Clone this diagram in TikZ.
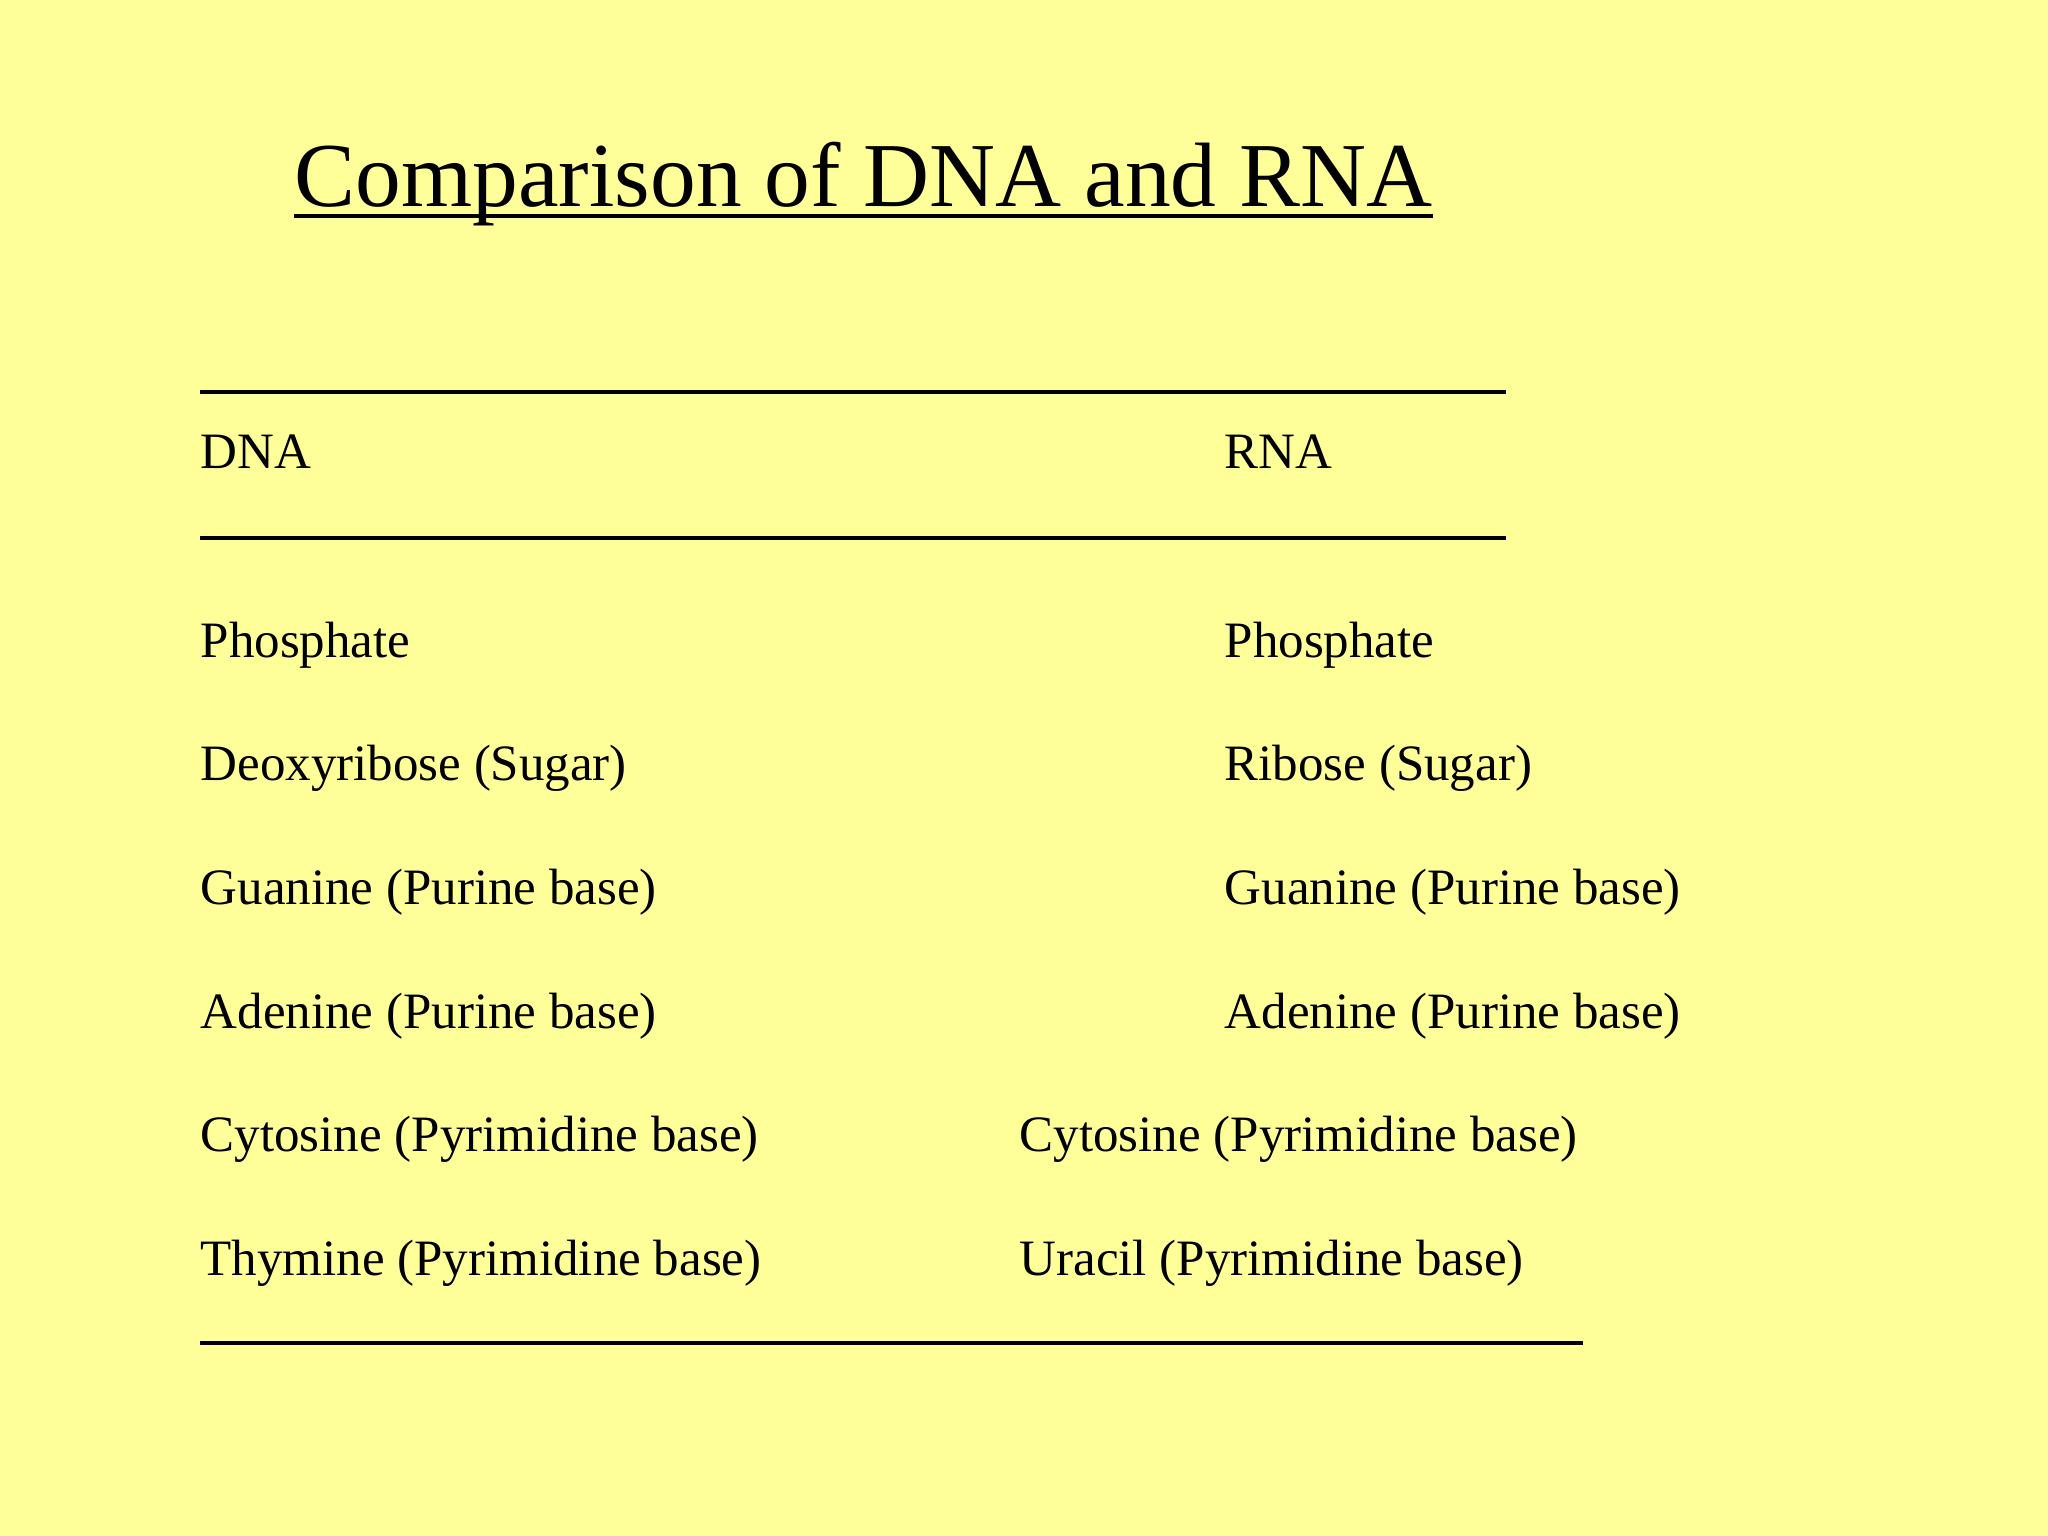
\documentclass[tikz,border=0pt]{standalone}
\usepackage{fontspec}
\setmainfont{Liberation Serif}
\usepackage{xcolor}
\definecolor{slidebg}{HTML}{FFFF99}
\begin{document}
\begin{tikzpicture}[x=0.01cm,y=-0.01cm,
  cell/.style={anchor=base west,inner sep=0pt,font=\fontsize{14.5}{17}\selectfont},
  rule/.style={line width=0.9pt}]
		\fill[slidebg] (0,0) rectangle (2048,1536);
		\node[anchor=base west,inner sep=0pt,font=\fontsize{26}{30}\selectfont] (title) at (294,206) {Comparison of DNA and RNA};
		\draw[line width=1pt] ([yshift=-2.8pt]title.base west) -- ([yshift=-2.8pt]title.base east);
		\draw[rule] (200,392) -- (1506,392);
		\draw[rule] (200,538) -- (1506,538);
		\draw[rule] (200,1343) -- (1583,1343);
		\node[cell] (dna) at (200,468) {DNA};
		\node[cell] (rna) at (1224,468) {RNA};
		\node[cell] (dpho) at (200,657) {Phosphate};
		\node[cell] (rpho) at (1224,657) {Phosphate};
		\node[cell] (dsug) at (200,780) {Deoxyribose (Sugar)};
		\node[cell] (rsug) at (1224,780) {Ribose (Sugar)};
		\node[cell] (dgua) at (200,904) {Guanine (Purine base)};
		\node[cell] (rgua) at (1224,904) {Guanine (Purine base)};
		\node[cell] (dade) at (200,1028) {Adenine (Purine base)};
		\node[cell] (rade) at (1224,1028) {Adenine (Purine base)};
		\node[cell] (dcyt) at (200,1151) {Cytosine (Pyrimidine base)};
		\node[cell] (rcyt) at (1019,1151) {Cytosine (Pyrimidine base)};
		\node[cell] (dthy) at (200,1275) {Thymine (Pyrimidine base)};
		\node[cell] (rura) at (1019,1275) {Uracil (Pyrimidine base)};
\end{tikzpicture}
\end{document}
